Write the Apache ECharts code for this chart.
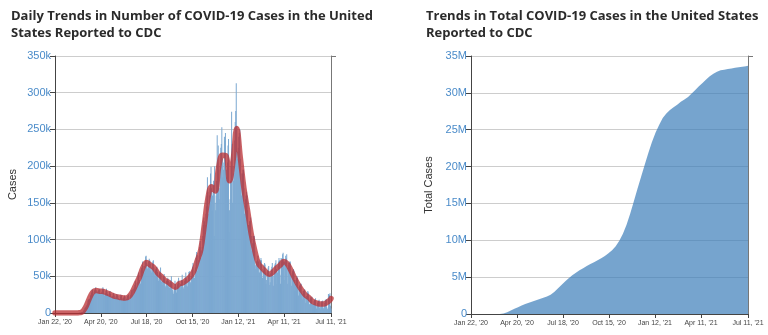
<!DOCTYPE html>
<html><head><meta charset="utf-8">
<script src="https://cdn.jsdelivr.net/npm/echarts@6/dist/echarts.min.js"></script>
<style>html,body{margin:0;padding:0;background:#fff}#c{width:768px;height:335px}</style>
</head><body><div id="c"></div>
<script>
// x axis: day index since Jan 22, 2020
const xTickDays = [0, 89, 178, 267, 356, 445, 536];
const xTickLabels = ["Jan 22, '20", "Apr 20, '20", "Jul 18, '20", "Oct 15, '20", "Jan 12, '21", "Apr 11, '21", "Jul 11, '21"];

// daily new cases (thousands), one per day from Jan 22, 2020 to Jul 11, 2021
const dailyCasesK = [
0,0,0,0,0,0,0, 0,0,0,0,0,0,0, 0,0,0,0,0,0,0, 0,0,0,0,0,0,0, 0,0,0,0,0,0,0,
0,0,0,0.01,0.01,0.02,0.03,
0.04,0.06,0.08,0.1,0.12,0.2,0.35,
0.4,0.5,0.7,0.9,1.2,1.5,2.4,
3.5,4.5,6.5,7.5,8.5,10,11,
13,17,18,19,19,20,24,
25,28,32,32,26,25,29,
31,33,35,31,28,27,29,
30,32,33,32,27,26,27,
29,33,35,33,27,24,25,
27,30,33,29,26,22,24,
26,29,30,26,22,21,23,
22,27,27,24,20,19,21,
23,26,25,23,20,18,19,
19,22,25,24,19,17,20,
20,22,24,22,18,17,19,
21,23,25,25,19,18,22,
25,28,31,32,25,25,33,
35,38,44,41,35,36,42,
50,55,52,45,42,40,58,
61,62,70,64,58,54,64,
70,77,78,68,62,60,66,
70,74,72,67,58,55,62,
67,70,72,62,54,50,58,
60,62,63,56,47,44,52,
55,56,62,52,43,38,44,
49,50,53,47,37,35,43,
44,46,48,44,35,34,42,
43,45,50,42,32,28,26,
31,35,44,39,33,28,36,
39,44,48,41,35,32,39,
40,45,52,43,35,33,40,
44,49,55,47,37,36,44,
50,56,57,48,42,40,50,
58,63,68,52,47,48,58,
62,75,83,79,58,65,72,
78,90,98,85,75,85,90,
105,120,130,125,105,120,135,
145,160,185,165,135,145,160,
170,190,199,170,140,160,175,
180,105,200,150,140,160,180,
242,205,228,195,155,170,200,
225,230,253,210,185,195,205,
240,235,245,195,185,195,205,
228,237,110,140,155,180,200,
274,230,150,200,180,190,235,
260,275,313,255,210,220,225,
240,245,250,210,180,160,190,
190,195,195,170,135,145,155,
160,165,160,140,110,120,120,
125,125,130,105,85,90,95,
105,105,105,85,65,60,70,
70,72,78,70,55,55,72,
72,75,72,60,48,45,58,
66,68,66,55,40,45,55,
58,62,64,52,38,42,54,
60,63,68,54,37,50,57,
66,68,72,60,40,55,65,
70,75,72,52,40,75,70,
75,80,82,70,45,70,68,
78,75,80,62,40,65,68,
70,68,70,54,37,52,57,
58,60,58,45,30,40,45,
48,50,48,35,24,32,37,
38,40,40,28,18,26,30,
30,32,32,22,14,20,23,
28,30,28,18,12,12,20,
22,20,22,12,8,12,16,
18,18,20,10,6,10,14,
16,17,18,7,5,9,14,
16,16,17,7,5,10,14,
18,18,19,8,5,6,26,
24,25,27,10,6
];

// 7-day average (thousands), read at the middle of each week (week i -> day 7*i+3)
const avgCasesK = [
0,0,0,0,0,0.01,0.14,1.09,7.4,18.6,
28.1,30.6,29.6,29.4,27.3,25.3,22.9,22,20.9,20.3,
21.9,28.4,38.7,48.9,61.9,68.7,65.4,61.9,54.9,50,
44.9,41.9,38,35.1,39.7,41.1,44.6,49,56.3,70.6,
85.9,120,156.4,172,166,199.3,214.7,214.3,180,208.4,
251.1,210.7,169.3,139.3,107.9,85,67.4,61.4,56.4,52.9,
55.6,60.9,64.9,70,66.9,58.3,48,39.1,31.4,24.7,
21.1,16,13.7,12.3,12.1,14.3,18.4
];
const avgStartK = 0;
const avgEndK = 19.6;

// cumulative cases (millions), every 7 days from day 0, last value on day 536
const totalCasesM = [
0,0,0,0,0,0,0,0,0.01,0.08,
0.25,0.47,0.7,0.93,1.14,1.34,1.52,1.7,1.87,2.03,
2.19,2.36,2.6,3.0,3.45,3.92,4.4,4.85,5.25,5.6,
5.93,6.22,6.5,6.77,7.03,7.28,7.56,7.88,8.23,8.65,
9.2,9.95,10.9,12.1,13.6,15.25,16.95,18.6,20.2,21.8,
23.3,24.6,25.65,26.6,27.2,27.66,28.05,28.4,28.8,29.1,
29.45,29.9,30.4,30.9,31.35,31.8,32.25,32.6,32.85,33.05,
33.15,33.25,33.32,33.4,33.47,33.55,33.62,33.68
];
const lastDay = 536;

const leftTitle = 'Daily Trends in Number of COVID-19 Cases in the United\nStates Reported to CDC';
const rightTitle = 'Trends in Total COVID-19 Cases in the United States\nReported to CDC';

const barData = dailyCasesK.map((v, i) => [i, v]);
const avgData = [[0, avgStartK]].concat(avgCasesK.map((v, i) => [7 * i + 3, v])).concat([[lastDay, avgEndK]]);
const totalData = totalCasesM.map((v, i) => [i < totalCasesM.length - 1 ? 7 * i : lastDay, v]);

const labelBlue = '#4a8bc9';
const axisDark = '#444';
const gridGray = '#cdcdcd';
const fontAxis = 'Liberation Sans, Arial, sans-serif';

function xAxisCfg(gridIndex) {
  return {
    type: 'value', gridIndex, min: 0, max: lastDay,
    axisLine: { show: true, lineStyle: { color: axisDark, width: 1 } },
    axisTick: { show: true, length: 4, customValues: xTickDays, lineStyle: { color: axisDark } },
    axisLabel: {
      customValues: xTickDays, fontSize: 7, color: '#444', margin: 6, fontFamily: fontAxis,
      formatter: v => { const k = xTickDays.indexOf(v); return k >= 0 ? xTickLabels[k] : ''; }
    },
    splitLine: { show: false }
  };
}
function yAxisCfg(gridIndex, max, interval, suffix, name) {
  return {
    type: 'value', gridIndex, min: 0, max, interval,
    name, nameLocation: 'middle', nameGap: 37, nameMoveOverlap: false,
    nameTextStyle: { fontSize: 11, color: '#333', fontFamily: fontAxis },
    axisLine: { show: true, lineStyle: { color: axisDark, width: 1 } },
    axisTick: { show: true, length: 5, lineStyle: { color: axisDark } },
    axisLabel: { fontSize: 11, color: labelBlue, margin: 4, fontFamily: fontAxis,
      formatter: v => v === 0 ? '0' : v + suffix },
    splitLine: { show: true, lineStyle: { color: gridGray, width: 1 } }
  };
}
function yBorderCfg(gridIndex, max) {
  return {
    type: 'value', gridIndex, min: 0, max, position: 'right',
    axisLine: { show: true, lineStyle: { color: '#777', width: 1 } },
    axisTick: { show: true, length: 5, customValues: [max], lineStyle: { color: '#777' } },
    axisLabel: { show: false }, splitLine: { show: false }
  };
}

const chart = echarts.init(document.getElementById('c'), null, { renderer: 'canvas' });
chart.setOption({
  animation: false,
  title: [
    { text: leftTitle, left: 6, top: 3,
      textStyle: { fontSize: 13, fontWeight: 'bold', color: '#2b2b2b', fontFamily: 'Open Sans', lineHeight: 17 } },
    { text: rightTitle, left: 421, top: 3,
      textStyle: { fontSize: 13, fontWeight: 'bold', color: '#2b2b2b', fontFamily: 'Open Sans', lineHeight: 17 } }
  ],
  grid: [
    { left: 55, right: 437, top: 56, bottom: 22 },
    { left: 471, right: 20, top: 56, bottom: 21 }
  ],
  xAxis: [xAxisCfg(0), xAxisCfg(1)],
  yAxis: [
    yAxisCfg(0, 350, 50, 'k', 'Cases'),
    yBorderCfg(0, 350),
    yAxisCfg(1, 35, 5, 'M', 'Total Cases'),
    yBorderCfg(1, 35)
  ],
  series: [
    { type: 'bar', xAxisIndex: 0, yAxisIndex: 0, data: barData, barWidth: 1,
      itemStyle: { color: '#7ba8d1' }, z: 2 },
    { type: 'line', xAxisIndex: 0, yAxisIndex: 0, data: avgData, smooth: 0.4, symbol: 'none',
      lineStyle: { color: 'rgba(185,45,50,0.75)', width: 5.5, cap: 'round', join: 'round' }, z: 3 },
    { type: 'line', xAxisIndex: 1, yAxisIndex: 2, data: totalData, symbol: 'none',
      lineStyle: { width: 0 }, areaStyle: { color: 'rgba(60,125,185,0.7)', opacity: 1 }, z: 2 }
  ]
});
</script></body></html>
